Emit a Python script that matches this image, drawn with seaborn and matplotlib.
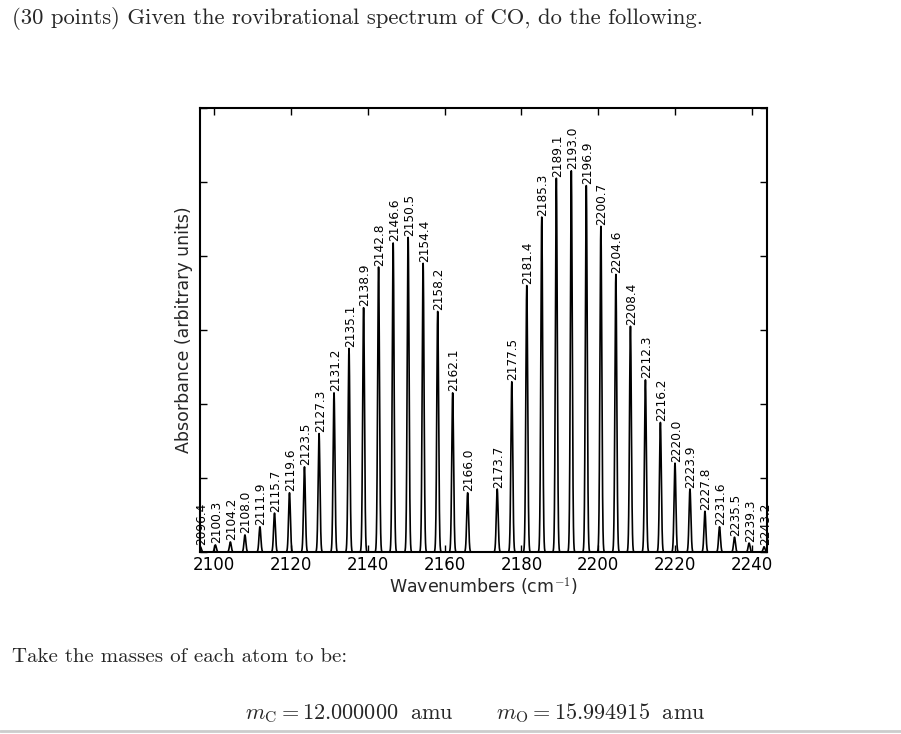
import numpy as np
import pandas as pd
import seaborn as sns
import matplotlib.pyplot as plt

# peak positions (cm^-1) and heights
p_branch = [2096.4, 2100.3, 2104.2, 2108.0, 2111.9, 2115.7, 2119.6, 2123.5, 2127.3,
            2131.2, 2135.1, 2138.9, 2142.8, 2146.6, 2150.5, 2154.4, 2158.2, 2162.1, 2166.0]
p_heights = [0.014, 0.019, 0.027, 0.046, 0.068, 0.105, 0.16, 0.23, 0.32,
             0.43, 0.55, 0.66, 0.77, 0.835, 0.85, 0.78, 0.65, 0.43, 0.16]
r_branch = [2173.7, 2177.5, 2181.4, 2185.3, 2189.1, 2193.0, 2196.9, 2200.7, 2204.6, 2208.4,
            2212.3, 2216.2, 2220.0, 2223.9, 2227.8, 2231.6, 2235.5, 2239.3, 2243.2]
r_heights = [0.17, 0.46, 0.72, 0.905, 1.01, 1.03, 0.99, 0.88, 0.75, 0.61,
             0.465, 0.35, 0.24, 0.17, 0.11, 0.068, 0.04, 0.024, 0.014]

peaks = p_branch + r_branch
heights = p_heights + r_heights

# line spectrum built from the peak list (narrow gaussian line shape)
x = np.arange(2094.0, 2246.0, 0.01)
y = np.zeros_like(x)
sig = 0.24
for w, h in zip(peaks, heights):
    y += h * np.exp(-0.5 * ((x - w) / sig)**2)
spec = pd.DataFrame({'wn': x, 'abs': y})

sns.set_style('ticks')
plt.rcParams['font.family'] = ['DejaVu Sans']
plt.rcParams['mathtext.fontset'] = 'cm'

fig = plt.figure(figsize=(9.01, 7.34), dpi=100)
ax = fig.add_axes([0.222, 0.248, 0.629, 0.605])

sns.lineplot(data=spec, x='wn', y='abs', color='black', linewidth=1.2, ax=ax)
for w, h in zip(peaks, heights):
    ax.text(w + 0.3, h + 0.004, f'{w:.1f}', rotation=90, ha='center', va='bottom',
            fontsize=8.7, color='black')

ax.set_xlim(2096.3, 2243.9)
ax.set_ylim(0, 1.2)
ax.set_xticks(range(2100, 2241, 20))
ax.set_yticks(np.arange(0, 1.21, 0.2))
ax.set_yticklabels([])
ax.tick_params(direction='in', top=True, right=True, length=5, width=1,
               labelsize=12, colors='black', pad=3)
ax.set_xlabel('Wavenumbers (cm$^{-1}$)', fontsize=12.5, labelpad=1)
ax.set_ylabel('Absorbance (arbitrary units)', fontsize=12.5, labelpad=2)
for s in ax.spines.values():
    s.set_linewidth(1.5)
    s.set_color('black')

fig.text(0.013, 0.975, '(30 points) Given the rovibrational spectrum of CO, do the following.',
         fontfamily='cmr10', fontsize=16.3, va='center', ha='left')
fig.text(0.013, 0.105, 'Take the masses of each atom to be:',
         fontfamily='cmr10', fontsize=15, va='center', ha='left')
fig.text(0.272, 0.028, r'$m_{\rm C} = 12.000000\;$ amu', fontfamily='cmr10', fontsize=16,
         va='center', ha='left')
fig.text(0.551, 0.028, r'$m_{\rm O} = 15.994915\;$ amu', fontfamily='cmr10', fontsize=16,
         va='center', ha='left')
fig.add_artist(plt.Line2D([0, 1], [0.004, 0.004], color='#cccccc', linewidth=2))

fig.savefig('out.png', dpi=100, facecolor='white')
